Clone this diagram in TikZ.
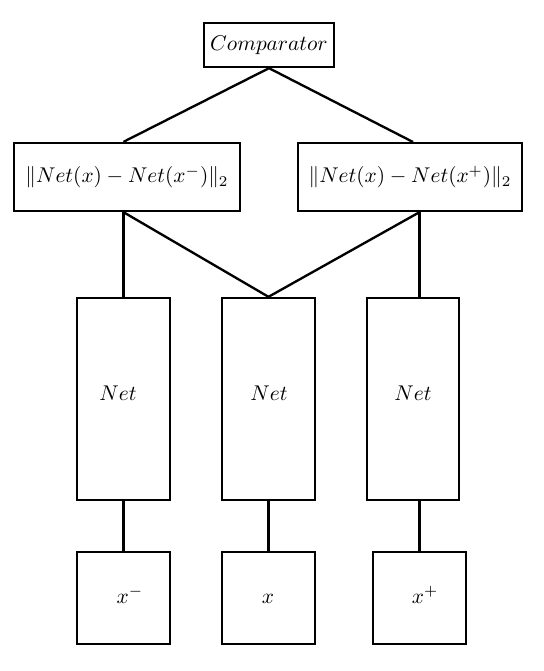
\documentclass[tikz,border=0pt]{standalone}
\usepackage{tikz}
\newdimen\pxu
\pxu=0.469pt
\begin{document}
\begin{tikzpicture}[x=0.469pt,y=-0.469pt,
  box/.style={draw=black,line width=1.1pt,inner sep=0pt,fill=white},
  conn/.style={draw=black,line width=1.1pt},
  lbl/.style={inner sep=0pt,anchor=base}]
\useasboundingbox (0,0) rectangle (544,671);
% top
\node[box,minimum width=130\pxu,minimum height=44\pxu] (comp) at (269,45) {$Comparator$};
\node[box,minimum width=226\pxu,minimum height=68\pxu] (nl) at (127,177) {$\|Net(x)-Net(x^-)\|_2$};
\node[box,minimum width=224\pxu,minimum height=68\pxu] (nr) at (410,177) {$\|Net(x)-Net(x^+)\|_2$};
% nets
\node[box,minimum width=93\pxu,minimum height=202\pxu] (netl) at (123.5,399) {};
\node[box,minimum width=93\pxu,minimum height=202\pxu] (netm) at (268.5,399) {};
\node[box,minimum width=92\pxu,minimum height=202\pxu] (netr) at (413,399) {};
\node[lbl] (netlt) at (118,400) {$Net$};
\node[lbl] (netmt) at (269,400) {$Net$};
\node[lbl] (netrt) at (413,400) {$Net$};
% inputs
\node[box,minimum width=93\pxu,minimum height=92\pxu] (inl) at (123.5,598) {};
\node[box,minimum width=93\pxu,minimum height=92\pxu] (inm) at (268.5,598) {};
\node[box,minimum width=93\pxu,minimum height=92\pxu] (inr) at (419.5,598) {};
\node[lbl] (inlt) at (130,603) {$x^-$};
\node[lbl] (inmt) at (268,603) {$x$};
\node[lbl] (inrt) at (425,603) {$x^+$};
% connectors
\coordinate (nltop) at (nl.north -| netl.north);
\coordinate (nrtop) at (413,142);
\coordinate (nlbot) at (nl.south -| netl.north);
\coordinate (nrbot) at (nr.south -| inr.north);
\draw[conn] (nltop) -- (comp.south) -- (nrtop);
\draw[conn] (nlbot) -- (netl.north);
\draw[conn] (nlbot) -- (netm.north) -- (nrbot);
\draw[conn] (nrbot) -- (netr.north -| inr.north);
\draw[conn] (netl.south) -- (inl.north -| netl.south);
\draw[conn] (netm.south) -- (inm.north -| netm.south);
\draw[conn] (netr.south -| inr.north) -- (inr.north);
\end{tikzpicture}
\end{document}
